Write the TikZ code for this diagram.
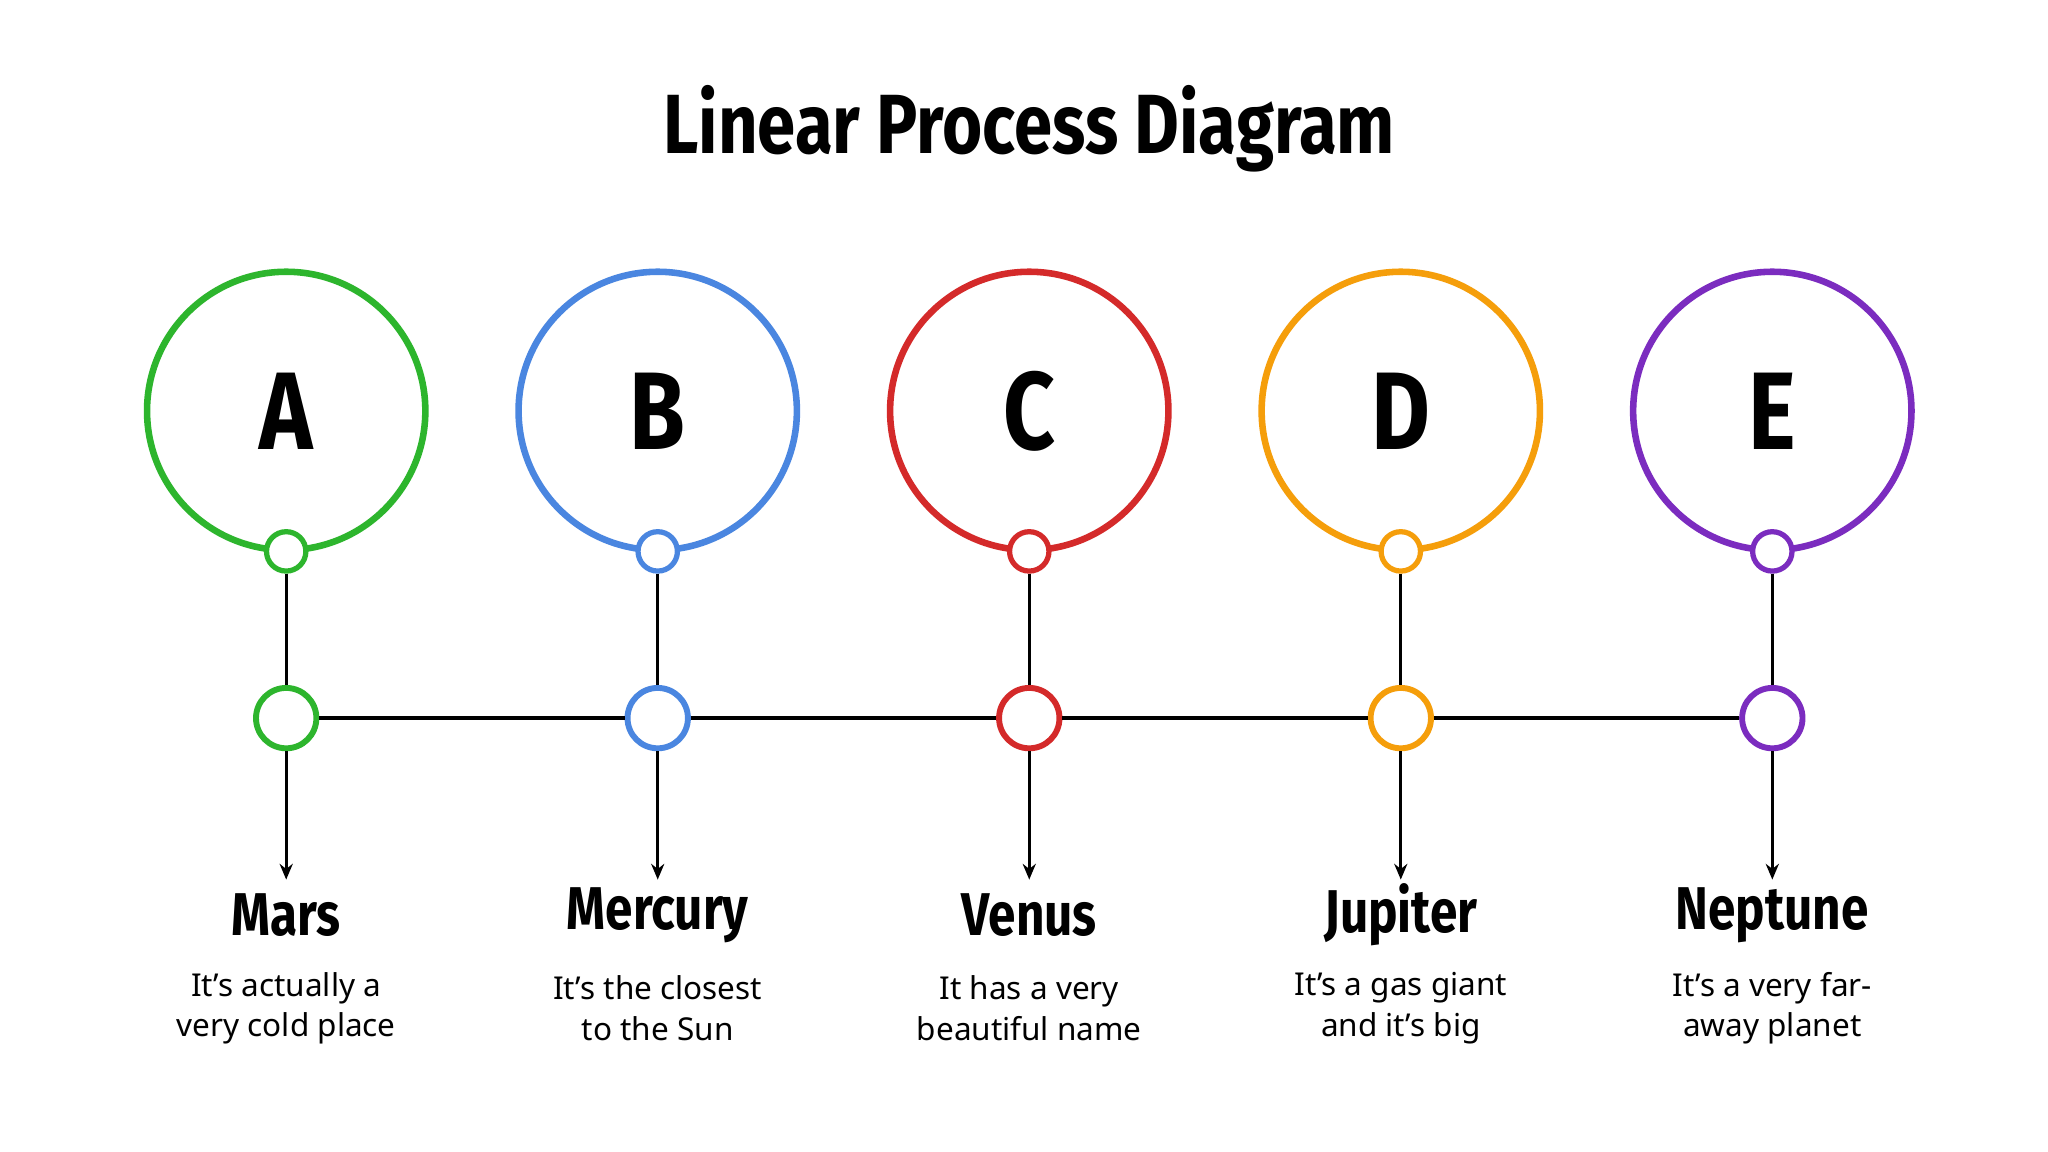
\documentclass[tikz,border=0pt]{standalone}
\usepackage{fontspec}
\setmainfont{Noto Sans}
\newfontfamily\headfontb{Fira Sans Bold}[FakeStretch=0.82]
\usetikzlibrary{arrows.meta}
\definecolor{cA}{HTML}{2DB52D}
\definecolor{cB}{HTML}{4A86E0}
\definecolor{cC}{HTML}{D42A2A}
\definecolor{cD}{HTML}{F59E0B}
\definecolor{cE}{HTML}{7B2CBF}
\begin{document}
\begin{tikzpicture}[x=1pt,y=-1pt,
  bigring/.style={circle,draw=#1,line width=5pt,minimum size=212pt,inner sep=0pt,fill=white,font=\headfontb\fontsize{84}{84}\selectfont},
  knobring/.style={circle,draw=#1,line width=4pt,minimum size=30pt,inner sep=0pt,fill=white},
  midring/.style={circle,draw=#1,line width=4.5pt,minimum size=46pt,inner sep=0pt,fill=white},
  pname/.style={font=\headfontb\fontsize{46}{46}\selectfont,inner sep=0pt},
  pdesc/.style={font=\fontsize{24}{31}\selectfont,align=center,inner sep=0pt},
  wire/.style={line width=2.5pt,black}]
\useasboundingbox[fill=white] (0,0) rectangle (1560,877.5);
\node[font=\headfontb\fontsize{64}{64}\selectfont] (title) at (784,98) {Linear Process Diagram};
\foreach \k/\x/\c/\L/\N/\D in {a/218/cA/A/Mars/{It’s actually a\\very cold place},
  b/501/cB/B/Mercury/{It’s the closest\\to the Sun},
  c/784/cC/C/Venus/{It has a very\\beautiful name},
  d/1067/cD/D/Jupiter/{It’s a gas giant\\and it’s big},
  e/1350/cE/E/Neptune/{It’s a very far-\\away planet}}{
  \node[bigring=\c] (big\k) at (\x,313) {\L};
  \node[knobring=\c] (knob\k) at (\x,420) {};
  \node[midring=\c] (mid\k) at (\x,547) {};
  \coordinate (end\k) at (\x,670);
  \node[pname] (name\k) at (\x,697) {\N};
  \node[pdesc] (desc\k) at (\x,768) {\D};
  \draw[wire] (knob\k) -- (mid\k);
  \draw[wire,-{Stealth[length=12pt,width=10pt]}] (mid\k) -- (end\k);
}
\draw[wire] (mida) -- (midb);
\draw[wire] (midb) -- (midc);
\draw[wire] (midc) -- (midd);
\draw[wire] (midd) -- (mide);
\end{tikzpicture}
\end{document}
